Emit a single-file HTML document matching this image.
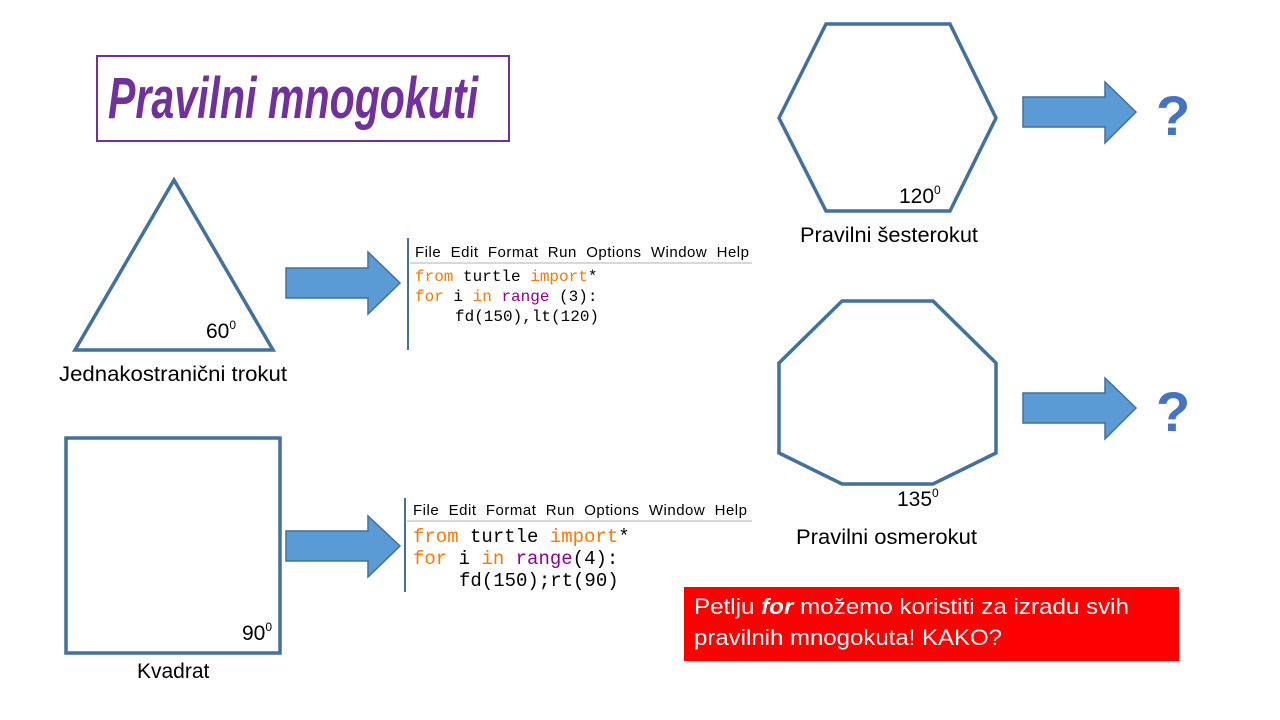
<!DOCTYPE html>
<html><head><meta charset="utf-8"><style>
html,body{margin:0;padding:0;background:#fff;}
svg{display:block}
.c{font-family:"Liberation Mono",monospace}
.s{font-family:"Liberation Sans",sans-serif}
</style></head><body>
<svg width="1280" height="720" viewBox="0 0 1280 720" xmlns="http://www.w3.org/2000/svg">
<rect x="97" y="56" width="412" height="85" fill="#fff" stroke="#7030a0" stroke-width="2"/>
<text x="108" y="118" class="s" font-size="58" font-weight="bold" font-style="italic" fill="#7030a0" textLength="370" lengthAdjust="spacingAndGlyphs">Pravilni mnogokuti</text>

<g fill="none" stroke="#41719c" stroke-width="3.5">
<polygon points="174,180 273,350 75,350"/>
<rect x="66" y="438" width="214" height="215"/>
<polygon points="779,118 826,24 950,24 996,118 950,211 826,211"/>
<polygon points="842,301 933,301 996,363 996,453 933,484 842,484 779,453 779,363"/>
</g>

<g fill="#5b9bd5" stroke="#41719c" stroke-width="1.5">
<polygon points="286,268 368,268 368,252 400,283 368,314 368,298 286,298"/>
<polygon points="286,531 368,531 368,516 400,546 368,577 368,561 286,561"/>
<polygon points="1023,97 1105,97 1105,82 1136,112 1105,143 1105,127 1023,127"/>
<polygon points="1023,393 1105,393 1105,378 1136,408 1105,439 1105,423 1023,423"/>
</g>

<g class="s" fill="#000" font-size="21">
<text x="206" y="338">60<tspan font-size="12" dy="-9">0</tspan></text>
<text x="242" y="640">90<tspan font-size="12" dy="-9">0</tspan></text>
<text x="899" y="203">120<tspan font-size="12" dy="-9">0</tspan></text>
<text x="897" y="506">135<tspan font-size="12" dy="-9">0</tspan></text>
<text x="59" y="381" textLength="228" lengthAdjust="spacingAndGlyphs">Jednakostranični trokut</text>
<text x="137" y="678">Kvadrat</text>
<text x="800" y="242" textLength="178" lengthAdjust="spacingAndGlyphs">Pravilni šesterokut</text>
<text x="796" y="544" textLength="181" lengthAdjust="spacingAndGlyphs">Pravilni osmerokut</text>
</g>
<g class="s" fill="#4472c4" font-size="56" font-weight="bold">
<text x="1156" y="135">?</text>
<text x="1156" y="431">?</text>
</g>

<line x1="408" y1="238" x2="408" y2="350" stroke="#4a6f96" stroke-width="2"/>
<line x1="410" y1="263" x2="752" y2="263" stroke="#ccc" stroke-width="1.5"/>
<text x="415" y="257" class="s" font-size="15" fill="#000" textLength="334" lengthAdjust="spacing">File&#160; Edit&#160; Format&#160; Run&#160; Options&#160; Window&#160; Help</text>
<g class="c" font-size="16">
<text x="415" y="281"><tspan fill="#ff7700">from</tspan> turtle <tspan fill="#ff7700">import</tspan>*</text>
<text x="415" y="301"><tspan fill="#ff7700">for</tspan> i <tspan fill="#ff7700">in</tspan> <tspan fill="#900090">range</tspan> (3):</text>
<text x="455" y="321">fd(150),lt(120)</text>
</g>

<line x1="405" y1="498" x2="405" y2="592" stroke="#4a6f96" stroke-width="2"/>
<line x1="407" y1="521" x2="752" y2="521" stroke="#ccc" stroke-width="1.5"/>
<text x="413" y="515" class="s" font-size="15" fill="#000" textLength="334" lengthAdjust="spacing">File&#160; Edit&#160; Format&#160; Run&#160; Options&#160; Window&#160; Help</text>
<g class="c" font-size="19">
<text x="413" y="542"><tspan fill="#ff7700">from</tspan> turtle <tspan fill="#ff7700">import</tspan>*</text>
<text x="413" y="564"><tspan fill="#ff7700">for</tspan> i <tspan fill="#ff7700">in</tspan> <tspan fill="#900090">range</tspan>(4):</text>
<text x="459" y="586">fd(150);rt(90)</text>
</g>

<rect x="684" y="587" width="495" height="74" fill="#ff0000"/>
<g class="s" fill="#fff" font-size="22">
<text x="694" y="614" textLength="435" lengthAdjust="spacingAndGlyphs">Petlju <tspan font-weight="bold" font-style="italic">for</tspan> možemo koristiti za izradu svih</text>
<text x="694" y="645" textLength="308" lengthAdjust="spacingAndGlyphs">pravilnih mnogokuta! KAKO?</text>
</g>
</svg>
</body></html>
